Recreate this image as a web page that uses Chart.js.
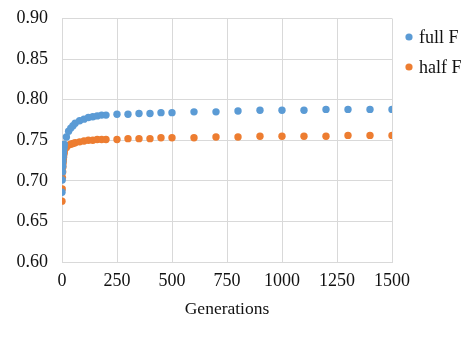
<!DOCTYPE html>
<html>
<head>
<meta charset="utf-8">
<script src="https://cdn.jsdelivr.net/npm/chart.js@4/dist/chart.umd.min.js"></script>
<style>
  html, body { margin: 0; padding: 0; background: #fff; }
  #wrap { width: 474px; height: 341px; }
</style>
</head>
<body>
<div id="wrap"><canvas id="chart" width="474" height="341"></canvas></div>
<script>
// generations sampled in the run
const generations = [
  0, 1, 2, 3, 4, 5, 6, 7, 8, 9, 10,
  20, 30, 40, 50, 60, 80, 100, 120, 140, 160, 180, 200,
  250, 300, 350, 400, 450, 500,
  600, 700, 800, 900, 1000, 1100, 1200, 1300, 1400, 1500
];

const fullF = [
  0.686, 0.701, 0.711, 0.718, 0.724, 0.729, 0.733, 0.737, 0.740, 0.742, 0.745,
  0.754, 0.761, 0.765, 0.768, 0.771, 0.774, 0.776, 0.778, 0.779, 0.780, 0.781, 0.781,
  0.782, 0.782, 0.783, 0.783, 0.784, 0.784,
  0.785, 0.785, 0.786, 0.787, 0.787, 0.787, 0.788, 0.788, 0.788, 0.788
];

const halfF = [
  0.675, 0.690, 0.704, 0.711, 0.717, 0.722, 0.726, 0.729, 0.732, 0.734, 0.736,
  0.741, 0.744, 0.745, 0.746, 0.747, 0.748, 0.749, 0.750, 0.750, 0.751, 0.751, 0.751,
  0.751, 0.752, 0.752, 0.752, 0.753, 0.753,
  0.753, 0.754, 0.754, 0.755, 0.755, 0.755, 0.755, 0.756, 0.756, 0.756
];

const seriesNames = ["full F", "half F"];
const seriesColors = ["#5B9BD5", "#ED7D31"];

const FONT = "'Liberation Serif', 'Times New Roman', serif";
const GRID = "#d9d9d9";
const INK = "#111";

const toPoints = (ys) => generations.map((x, i) => ({ x, y: ys[i] }));

// legend drawn at the right of the plot, one dot + name per series
const sideLegend = {
  id: "sideLegend",
  afterDraw(chart) {
    const ctx = chart.ctx;
    ctx.save();
    ctx.font = "18px " + FONT;
    ctx.textBaseline = "middle";
    chart.data.datasets.forEach((ds, i) => {
      const y = 37 + i * 30;
      ctx.fillStyle = ds.backgroundColor;
      ctx.beginPath();
      ctx.arc(409, y, 3.6, 0, Math.PI * 2);
      ctx.fill();
      ctx.fillStyle = INK;
      ctx.fillText(ds.label, 419, y + 1);
    });
    ctx.restore();
  }
};

new Chart(document.getElementById("chart"), {
  type: "scatter",
  data: {
    datasets: [fullF, halfF].map((ys, i) => ({
      label: seriesNames[i],
      data: toPoints(ys),
      backgroundColor: seriesColors[i],
      borderColor: seriesColors[i],
      borderWidth: 0,
      pointRadius: 3.7,
      pointHoverRadius: 3.7
    }))
  },
  options: {
    responsive: false,
    animation: false,
    layout: { padding: { top: 18.5, right: 82, bottom: 21, left: 0 } },
    plugins: {
      legend: { display: false },
      tooltip: { enabled: false }
    },
    scales: {
      x: {
        type: "linear",
        min: 0,
        max: 1500,
        afterFit(scale) { scale.height = 58; },
        ticks: {
          stepSize: 250,
          padding: 8,
          color: INK,
          font: { family: FONT, size: 18 },
          callback: (v) => String(v)
        },
        grid: { color: GRID, drawTicks: false },
        border: { color: GRID },
        title: {
          display: true,
          text: "Generations",
          color: INK,
          font: { family: FONT, size: 17.5 },
          padding: { top: 4, bottom: 0 }
        }
      },
      y: {
        min: 0.6,
        max: 0.9,
        afterFit(scale) {
          scale.width = 62;
          scale.paddingTop = 0;
          scale.paddingBottom = 0;
        },
        ticks: {
          stepSize: 0.05,
          padding: 14,
          color: INK,
          font: { family: FONT, size: 18 },
          callback: (v) => v.toFixed(2)
        },
        grid: { color: GRID, drawTicks: false },
        border: { color: GRID }
      }
    }
  },
  plugins: [sideLegend]
});
</script>
</body>
</html>
